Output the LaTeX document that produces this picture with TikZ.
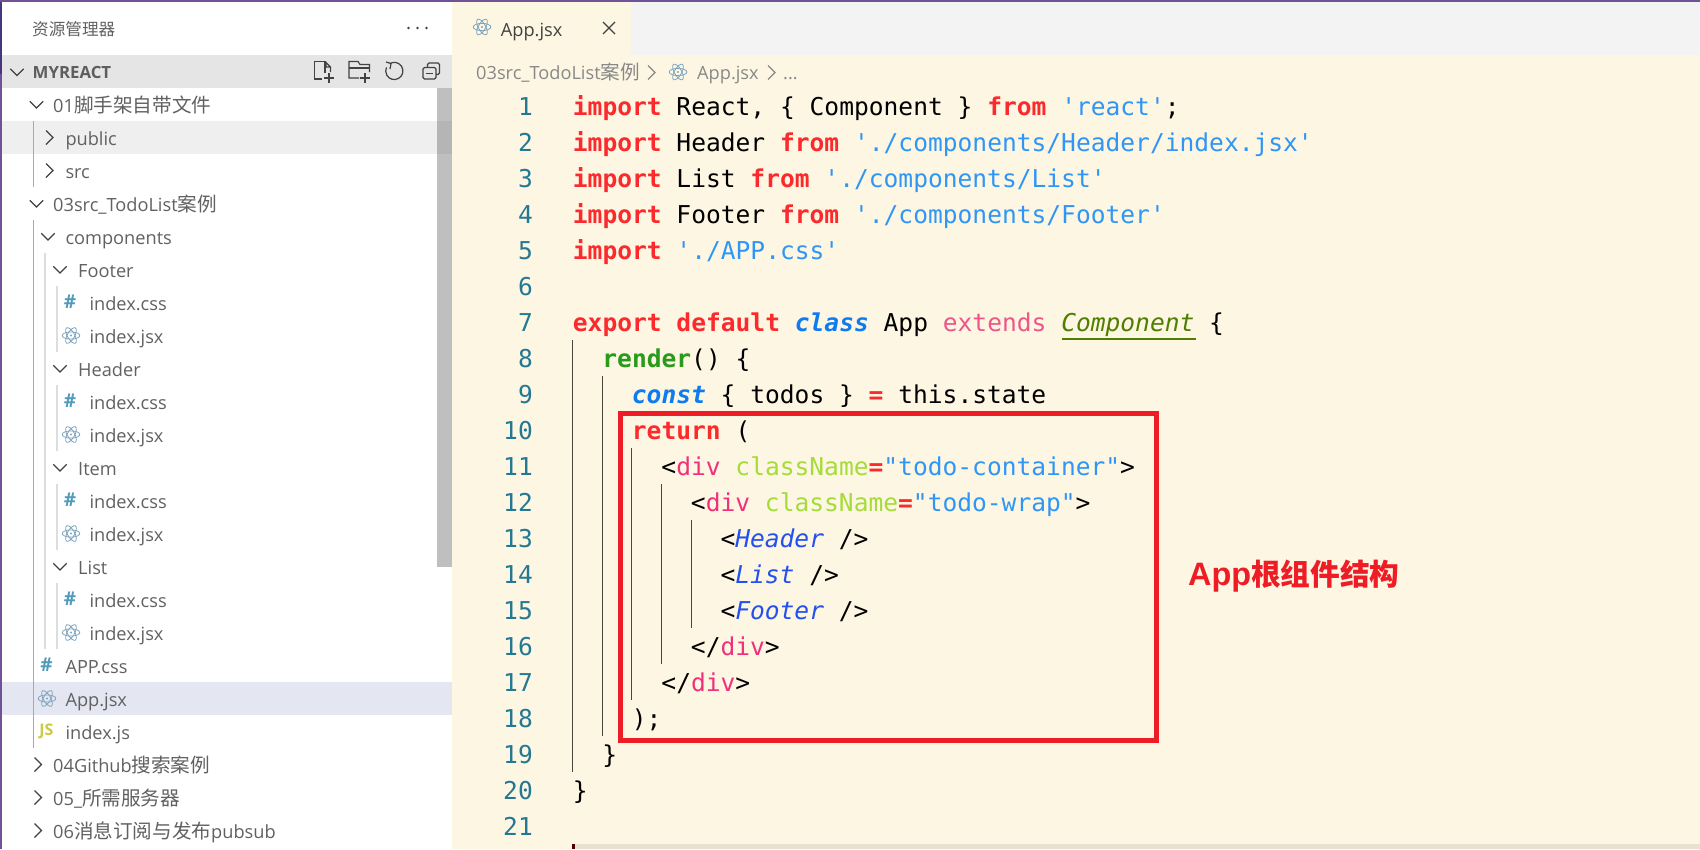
\documentclass[tikz,border=0pt]{standalone}
\usepackage{fontspec}
\setmainfont{Open Sans}
\newfontfamily\uifont{Open Sans}
\newfontfamily\cjk{Noto Sans CJK SC}
\newfontfamily\codefont{DejaVu Sans Mono}
\newfontfamily\notelatin{Liberation Sans}
\definecolor{purplebar}{HTML}{6F5396}
\definecolor{purpledark}{HTML}{46367F}
\definecolor{cream}{HTML}{FDF6E3}
\definecolor{tabgray}{HTML}{F3F3F3}
\definecolor{bandgray}{HTML}{E5E5E5}
\definecolor{hover}{HTML}{EFEFEF}
\definecolor{selrow}{HTML}{E4E6F1}
\definecolor{scroll}{HTML}{BFBFBF}
\definecolor{scrollhov}{HTML}{B5B5B5}
\definecolor{uitext}{HTML}{616161}
\definecolor{icondark}{HTML}{424242}
\definecolor{guideA}{HTML}{A9A9A9}
\definecolor{guideB}{HTML}{DDDDDD}
\definecolor{cssblue}{HTML}{519ABA}
\definecolor{reactblue}{HTML}{7FA6BF}
\definecolor{jsyellow}{HTML}{CBCB41}
\definecolor{crumb}{HTML}{888888}
\definecolor{lnum}{HTML}{237893}
\definecolor{kwred}{HTML}{FA2A2D}
\definecolor{strblue}{HTML}{2F96F5}
\definecolor{extpink}{HTML}{EE5588}
\definecolor{oliveg}{HTML}{4F7F00}
\definecolor{storeblue}{HTML}{0F7BF0}
\definecolor{fngreen}{HTML}{2A9A1A}
\definecolor{tagpink}{HTML}{F0307A}
\definecolor{attrgreen}{HTML}{A5DC3A}
\definecolor{compblue}{HTML}{2550F0}
\definecolor{guidecode}{HTML}{4A4640}
\definecolor{boxred}{HTML}{EE1C25}
\newcommand{\cjkui}[1]{{\cjk\fontsize{19.6}{22}\selectfont #1}}
\tikzset{
  ui/.style={anchor=base west,inner sep=0pt,text=uitext,font=\uifont\fontsize{18.2}{22}\selectfont},
  codeline/.style={anchor=base west,inner sep=0pt,text=black,font=\codefont\fontsize{24.58}{30}\selectfont},
  numline/.style={anchor=base east,inner sep=0pt,text=lnum,font=\codefont\fontsize{24.58}{30}\selectfont},
  chev/.style={draw=icondark,line width=1.1pt,line join=miter},
  tree1/.style={draw=guideA,line width=1pt},
  tree2/.style={draw=guideB,line width=1.2pt},
  cguide/.style={draw=guidecode,line width=1.5pt},
  icon/.style={draw=icondark,line width=1.2pt},
  react/.style={draw=reactblue,line width=.8pt},
}
\newcommand{\kw}[1]{\textcolor{kwred}{\textbf{#1}}}
\newcommand{\str}[1]{\textcolor{strblue}{#1}}
\newcommand{\tg}[1]{\textcolor{tagpink}{#1}}
\newcommand{\attr}[1]{\textcolor{attrgreen}{#1}}
\newcommand{\cmp}[1]{\textcolor{compblue}{\textit{#1}}}
\newcommand{\store}[1]{\textcolor{storeblue}{\textbf{\textit{#1}}}}
\newcommand{\chd}[2]{\draw[chev,shift={(#1,{104.5+33*#2})}] (-6.7,-3.2) -- (0,3.5) -- (6.7,-3.2);}
\newcommand{\chr}[2]{\draw[chev,shift={(#1,{104.5+33*#2})}] (-3.5,-7) -- (3.5,0) -- (-3.5,7);}
\newcommand{\rtext}[4]{\node[ui] (#1) at (#2,{112+33*#3}) {#4};}
\newcommand{\reacticon}[2]{\begin{scope}[shift={(#1,#2)}]
  \draw[react,rotate=0] (0,0) ellipse (8.8 and 3.6);
  \draw[react,rotate=60] (0,0) ellipse (8.8 and 3.6);
  \draw[react,rotate=120] (0,0) ellipse (8.8 and 3.6);
  \fill[reactblue] (0,0) circle (1.2);
\end{scope}}
\newcommand{\cssicon}[3]{\node[anchor=center,inner sep=0pt,text=cssblue,font=\uifont\bfseries\fontsize{19}{22}\selectfont] (#1) at (#2,{104*1+33*#3}) {\#};}
\newcommand{\cl}[3]{\node[codeline] (c#1) at ({572.7+14.76*#2},{115+36*(#1-1)}) {#3};
  \node[numline] (n#1) at (533,{115+36*(#1-1)}) {#1};}
\begin{document}
\begin{tikzpicture}[x=1pt,y=-1pt]
\useasboundingbox (0,0) rectangle (1700,849);
% backgrounds
\fill[white] (0,0) rectangle (452,849);
\fill[cream] (452,0) rectangle (1700,849);
\fill[tabgray] (631,2) rectangle (1700,55);
\fill[bandgray] (2,55) rectangle (452,88);
\fill[hover] (2,121) rectangle (452,154);
\fill[selrow] (2,682) rectangle (452,715);
\fill[scroll] (437,88) rectangle (452,567);
\fill[scrollhov] (437,121) rectangle (452,154);
\fill[purplebar] (0,0) rectangle (1700,2);
\fill[purplebar] (0,74) rectangle (2,849);
\fill[purpledark] (0,2) rectangle (2,74);
% sidebar header
\node[ui,font=\cjk\fontsize{16.6}{20}\selectfont] (title) at (32,35) {资源管理器};
\fill[icondark] (408.5,28) circle (1.4) (417.5,28) circle (1.4) (426.5,28) circle (1.4);
\draw[chev,shift={(17,72)}] (-6.7,-3.2) -- (0,3.5) -- (6.7,-3.2);
\node[ui,font=\uifont\bfseries\fontsize{16.8}{20}\selectfont,text=icondark!85!white] (root) at (32.5,78) {MYREACT};
% toolbar icons
\draw[icon] (325,73) -- (325,61.5) -- (314.5,61.5) -- (314.5,79) -- (322,79);
\draw[icon] (325,61.5) -- (330.5,67) (326,61.5) -- (326,67) -- (330.5,67) -- (330.5,72);
\draw[icon] (329,73) -- (329,83) (324,78) -- (334,78);
\draw[icon] (359,78) -- (349,78) -- (349,61.5) -- (358,61.5) -- (360,64.5) -- (369.5,64.5) -- (369.5,72);
\draw[icon] (349,68) -- (369.5,68);
\draw[icon] (365,73) -- (365,83) (360,78) -- (370,78);
\draw[icon] (390,63.5) arc (-120:205:8.6);
\draw[icon] (386,62) -- (391,63.5) -- (390,69);
\draw[icon,rounded corners=1.5] (423,67.5) rectangle (436,79);
\draw[icon,rounded corners=1.5] (427.5,67.5) -- (427.5,63) -- (439.5,63) -- (439.5,74.5) -- (436,74.5);
\draw[icon] (426,73.5) -- (433,73.5);
% tree guides
\draw[tree1] (33,121) -- (33,187);
\draw[tree1] (33,220) -- (33,748);
\draw[tree2] (45,253) -- (45,649);
\foreach \ya/\yb in {286/352,385/451,484/550,583/649} \draw[tree2] (57,\ya) -- (57,\yb);
% tree rows
\chd{36.5}{0} \rtext{r0}{53}{0}{01\cjkui{脚手架自带文件}}
\chr{49.5}{1} \rtext{r1}{65.3}{1}{public}
\chr{49.5}{2} \rtext{r2}{65.3}{2}{src}
\chd{36.5}{3} \rtext{r3}{53}{3}{03src\_TodoList\cjkui{案例}}
\chd{48}{4} \rtext{r4}{65.3}{4}{components}
\chd{60}{5} \rtext{r5}{78}{5}{Footer}
\cssicon{h6}{70}{6} \rtext{r6}{89.3}{6}{index.css}
\reacticon{71}{{104.5+33*7}} \rtext{r7}{89.3}{7}{index.jsx}
\chd{60}{8} \rtext{r8}{78}{8}{Header}
\cssicon{h9}{70}{9} \rtext{r9}{89.3}{9}{index.css}
\reacticon{71}{{104.5+33*10}} \rtext{r10}{89.3}{10}{index.jsx}
\chd{60}{11} \rtext{r11}{78}{11}{Item}
\cssicon{h12}{70}{12} \rtext{r12}{89.3}{12}{index.css}
\reacticon{71}{{104.5+33*13}} \rtext{r13}{89.3}{13}{index.jsx}
\chd{60}{14} \rtext{r14}{78}{14}{List}
\cssicon{h15}{70}{15} \rtext{r15}{89.3}{15}{index.css}
\reacticon{71}{{104.5+33*16}} \rtext{r16}{89.3}{16}{index.jsx}
\cssicon{h17}{46.5}{17} \rtext{r17}{65.3}{17}{APP.css}
\reacticon{47}{{104.5+33*18}} \rtext{r18}{65.3}{18}{App.jsx}
\node[anchor=center,inner sep=0pt,text=jsyellow,font=\uifont\bfseries\fontsize{16}{18}\selectfont] (h19) at (46.5,731) {JS};
\rtext{r19}{65.3}{19}{index.js}
\chr{38}{20} \rtext{r20}{53}{20}{04Github\cjkui{搜索案例}}
\chr{38}{21} \rtext{r21}{53}{21}{05\_\cjkui{所需服务器}}
\chr{38}{22} \rtext{r22}{53}{22}{06\cjkui{消息订阅与发布}pubsub}
% tab
\reacticon{482}{27}
\node[ui,text=icondark] (tab) at (500.7,36) {App.jsx};
\draw[chev,line width=1.3pt] (603,22) -- (615,34) (615,22) -- (603,34);
% breadcrumb
\node[ui,text=crumb] (crumb1) at (476,79) {03src\_TodoList\cjkui{案例}};
\draw[chev,draw=crumb] (648,65.5) -- (655,72.5) -- (648,79.5);
\reacticon{678}{72}
\node[ui,text=crumb] (crumb2) at (697,79) {App.jsx};
\draw[chev,draw=crumb] (768,65.5) -- (775,72.5) -- (768,79.5);
\node[ui,text=crumb] (crumb3) at (783,79) {...};
% code guides
\draw[cguide] (572.7,340) -- (572.7,772);
\draw[cguide] (602.7,376) -- (602.7,736);
\draw[cguide] (631.7,448) -- (631.7,700);
\draw[cguide] (661.7,484) -- (661.7,664);
\draw[cguide] (691.7,520) -- (691.7,628);
% code
\cl{1}{0}{\kw{import} React, \{ Component \} \kw{from} \str{'react'};}
\cl{2}{0}{\kw{import} Header \kw{from} \str{'./components/Header/index.jsx'}}
\cl{3}{0}{\kw{import} List \kw{from} \str{'./components/List'}}
\cl{4}{0}{\kw{import} Footer \kw{from} \str{'./components/Footer'}}
\cl{5}{0}{\kw{import} \str{'./APP.css'}}
\node[numline] (n6) at (533,295) {6};
\cl{7}{0}{\kw{export default} \store{class} App \textcolor{extpink}{extends} \textcolor{oliveg}{\textit{Component}} \{}
\draw[draw=oliveg,line width=1.5pt] (1062,339) -- (1196,339);
\cl{8}{2}{\textcolor{fngreen}{\textbf{render}}() \{}
\cl{9}{4}{\store{const} \{ todos \} \kw{=} this.state}
\cl{10}{4}{\kw{return} (}
\cl{11}{6}{<\tg{div} \attr{className}\kw{=}\str{"todo-container"}>}
\cl{12}{8}{<\tg{div} \attr{className}\kw{=}\str{"todo-wrap"}>}
\cl{13}{10}{<\cmp{Header} />}
\cl{14}{10}{<\cmp{List} />}
\cl{15}{10}{<\cmp{Footer} />}
\cl{16}{8}{</\tg{div}>}
\cl{17}{6}{</\tg{div}>}
\cl{18}{4}{);}
\cl{19}{2}{\}}
\cl{20}{0}{\}}
\node[numline] (n21) at (533,835) {21};
\fill[cream!92!black] (572,844) rectangle (1700,849);
\fill[black!70!red] (572,844) rectangle (575,849);
% annotation
\draw[draw=boxred,line width=5pt] (620.5,413.5) rectangle (1156.5,740.5);
\node[anchor=base west,inner sep=0pt,text=boxred,font=\cjk\bfseries\fontsize{29.7}{34}\selectfont] (note) at (1188,585.5) {{\notelatin\bfseries\fontsize{32.4}{34}\selectfont App}根组件结构};
\end{tikzpicture}
\end{document}
